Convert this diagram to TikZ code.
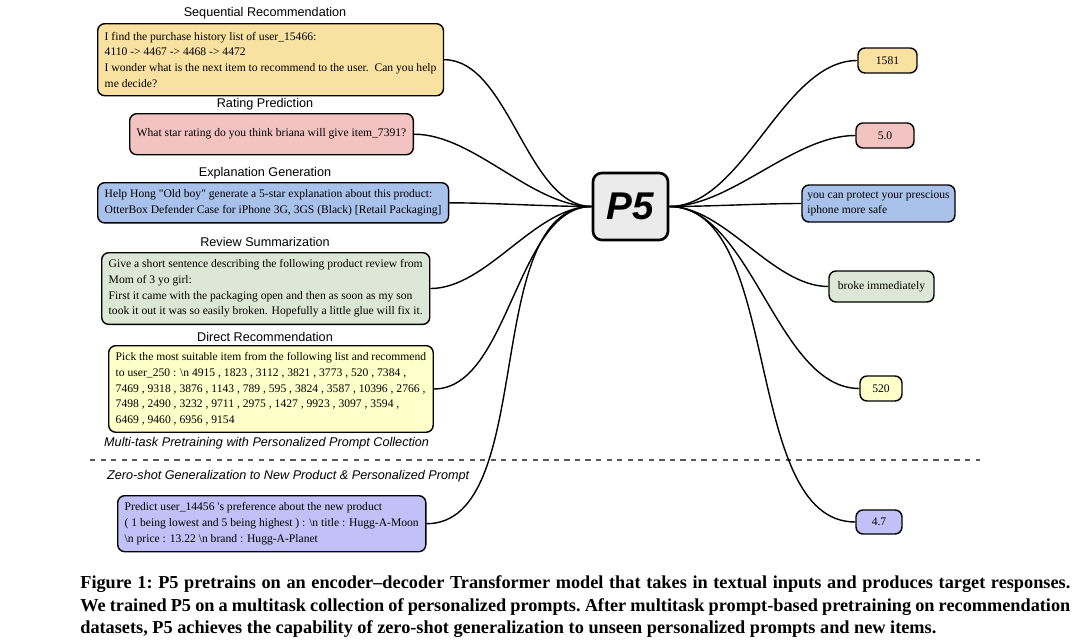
\documentclass[tikz,border=0pt]{standalone}
\usepackage{fontspec}
\setmainfont{Liberation Serif}
\newfontfamily\headfont{Liberation Sans}
\newfontfamily\plainserif[Ligatures=ResetAll]{Liberation Serif}
\begin{document}
\begin{tikzpicture}[x=0.02cm, y=-0.02cm]
    \definecolor{Cseq}{HTML}{F9E1A2}
    \definecolor{Crat}{HTML}{F3C3C1}
    \definecolor{Cexp}{HTML}{A9C2EC}
    \definecolor{Crev}{HTML}{DCE8D5}
    \definecolor{Cdir}{HTML}{FFFFC9}
    \definecolor{Czero}{HTML}{C1C1F7}
    \definecolor{Cp}{HTML}{EBEBEB}

    \tikzset{
        prompt/.style={draw, thick, rounded corners=4pt, anchor=north west, inner sep=4pt, align=left, font=\plainserif\fontsize{6.6}{8.9}\selectfont},
        answer/.style={draw, thick, rounded corners=4pt, inner sep=3pt, font=\plainserif\fontsize{6.6}{8.9}\selectfont, align=left},
        task/.style={font=\headfont\fontsize{7.2}{8}\selectfont},
        link/.style={draw, thick}
    }

    \useasboundingbox (0,0) rectangle (1080,643);

    % task titles
    \node[task] at (265,13) {Sequential Recommendation};
    \node[task] at (265,104) {Rating Prediction};
    \node[task] at (265,173) {Explanation Generation};
    \node[task] at (265,242) {Review Summarization};
    \node[task] at (265,337) {Direct Recommendation};

    % input prompts
    \node[prompt, fill=Cseq, minimum width=337*0.02cm, minimum height=72*0.02cm] (seq) at (97,23) {I find the purchase history list of user\_15466:\\4110 -> 4467 -> 4468 -> 4472\\I wonder what is the next item to recommend to the user.\ \ Can you help\\me decide?};
    \node[prompt, fill=Crat, minimum width=271*0.02cm, minimum height=41*0.02cm, align=center] (rat) at (129,113) {What star rating do you think briana will give item\_7391?};
    \node[prompt, fill=Cexp, minimum width=337*0.02cm, minimum height=40*0.02cm] (exp) at (97,182) {Help Hong "Old boy" generate a 5-star explanation about this product:\\OtterBox Defender Case for iPhone 3G, 3GS (Black) [Retail Packaging]};
    \node[prompt, fill=Crev, minimum width=324*0.02cm, minimum height=66*0.02cm] (rev) at (101,252) {Give a short sentence describing the following product review from\\Mom of 3 yo girl:\\First it came with the packaging open and then as soon as my son\\took it out it was so easily broken. Hopefully a little glue will fix it.};
    \node[prompt, fill=Cdir, minimum width=318*0.02cm, minimum height=77*0.02cm] (dir) at (108,345) {Pick the most suitable item from the following list and recommend\\to user\_250 : \textbackslash n 4915 , 1823 , 3112 , 3821 , 3773 , 520 , 7384 ,\\7469 , 9318 , 3876 , 1143 , 789 , 595 , 3824 , 3587 , 10396 , 2766 ,\\7498 , 2490 , 3232 , 9711 , 2975 , 1427 , 9923 , 3097 , 3594 ,\\6469 , 9460 , 6956 , 9154};

    \node[anchor=west, font=\headfont\itshape\fontsize{7.2}{8}\selectfont] (multi) at (98,443) {Multi-task Pretraining with Personalized Prompt Collection};
    \draw[dashed, thick, gray!70!black] (90,460) -- (980,460);
    \node[anchor=west, font=\headfont\itshape\fontsize{7.2}{8}\selectfont] (zshot) at (101,476) {Zero-shot Generalization to New Product \& Personalized Prompt};

    \node[prompt, fill=Czero, minimum width=303*0.02cm, minimum height=53*0.02cm] (zero) at (117,495) {Predict user\_14456 's preference about the new product\\( 1 being lowest and 5 being highest ) : \textbackslash n title : Hugg-A-Moon\\\textbackslash n price : 13.22 \textbackslash n brand : Hugg-A-Planet};

    % model
    \node[draw, line width=1.5pt, rounded corners=5pt, fill=Cp, minimum width=75*0.02cm, minimum height=67*0.02cm, font=\headfont\bfseries\itshape\fontsize{22}{24}\selectfont] (p5) at (630.5,206.5) {P5};

    % outputs
    \node[answer, fill=Cseq, minimum width=59*0.02cm, minimum height=25*0.02cm, align=center] (o1) at (887.5,60.5) {1581};
    \node[answer, fill=Crat, minimum width=58*0.02cm, minimum height=25*0.02cm, align=center] (o2) at (885,135.5) {5.0};
    \node[answer, fill=Cexp, minimum width=153*0.02cm, minimum height=37*0.02cm] (o3) at (878.5,203.5) {you can protect your prescious\\iphone more safe};
    \node[answer, fill=Crev, minimum width=105*0.02cm, minimum height=31*0.02cm, align=center] (o4) at (881.5,286.5) {broke immediately};
    \node[answer, fill=Cdir, minimum width=42*0.02cm, minimum height=25*0.02cm, align=center] (o5) at (881,388.5) {520};
    \node[answer, fill=Czero, minimum width=46*0.02cm, minimum height=24*0.02cm, align=center] (o6) at (879,522) {4.7};

    % connectors
    \foreach \src in {seq, rat, exp, rev, dir, zero}
        \path[link] (\src.east) to[out=0, in=180, looseness=0.8] (p5.west);
    \foreach \dst in {o1, o2, o3, o4, o5, o6}
        \path[link] (p5.east) to[out=0, in=180, looseness=0.8] (\dst.west);

    % caption
    \node[anchor=north west, text width=990*0.02cm, align=justify, font=\bfseries\fontsize{10.4}{13}\selectfont, inner sep=0pt] (cap) at (80,575) {\frenchspacing Figure 1: P5 pretrains on an encoder–decoder Transformer model that takes in textual inputs and produces target responses. We trained P5 on a multitask collection of personalized prompts. After multitask prompt-based pretraining on recommendation datasets, P5 achieves the capability of zero-shot generalization to unseen personalized prompts and new items.};
\end{tikzpicture}
\end{document}
